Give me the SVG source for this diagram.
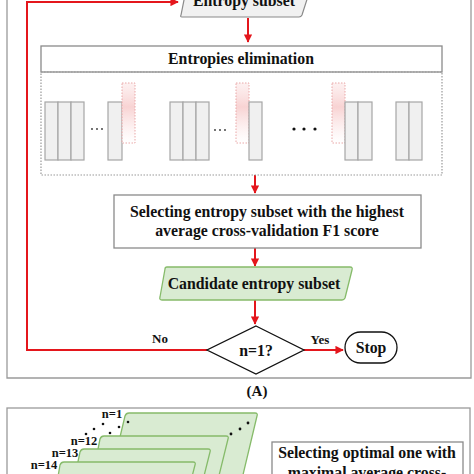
<svg xmlns="http://www.w3.org/2000/svg" width="474" height="474" viewBox="0 0 474 474">
<style>
text{font-family:"Liberation Serif","Times New Roman",serif;font-weight:bold;fill:#111;text-anchor:middle}
.frame{fill:none;stroke:#9a9a9a;stroke-width:1.3}
.box{fill:#fff;stroke:#8a8a8a;stroke-width:1.3}
.bar{fill:#f0f0f0;stroke:#a6a6a6;stroke-width:1.2}
.pink{fill:url(#pg);stroke:#e9a8a8;stroke-width:1;stroke-dasharray:1.5,1.5}
.dots{fill:none;stroke:#999;stroke-width:1.2;stroke-dasharray:1.5,1.5}
.red{fill:none;stroke:#e4161c;stroke-width:2}
.green{fill:#d9ebd2;stroke:#86bb6a;stroke-width:1.3;stroke-linejoin:round}
.lbl{font-size:15.8px}
.sm{font-size:12.5px}
</style>
<defs>
<linearGradient id="pg" x1="0" y1="0" x2="0" y2="1">
<stop offset="0" stop-color="#fbe3e3" stop-opacity="0.5"/>
<stop offset="0.4" stop-color="#f8d3d3"/>
<stop offset="1" stop-color="#fff" stop-opacity="0.6"/>
</linearGradient>
<marker id="ah" viewBox="0 0 10 10" refX="9" refY="5" markerWidth="4.2" markerHeight="4.2" orient="auto" markerUnits="strokeWidth">
<path d="M0,0 L10,5 L0,10 z" fill="#e4161c"/>
</marker>
</defs>

<!-- frames -->
<path class="frame" d="M7,-5 V378 H471 V-5"/>
<rect class="frame" x="7" y="408" width="463" height="80"/>
<text x="257" y="396" style="font-size:15px">(A)</text>

<g id="connectors">
<path class="red" d="M207,350 H27 V2 H178" marker-end="url(#ah)"/>
<path class="red" d="M248,18 V42" marker-end="url(#ah)"/>
<path class="red" d="M255,175 V193" marker-end="url(#ah)"/>
<path class="red" d="M255,248 V266" marker-end="url(#ah)"/>
<path class="red" d="M255,300 V324" marker-end="url(#ah)"/>
<path class="red" d="M304,350 H343" marker-end="url(#ah)"/>
<text x="160" y="343" style="font-size:13px">No</text>
<text x="320" y="344" style="font-size:13px">Yes</text>
</g>

<g id="entropy-subset">
<path d="M187,-12 H309 Q311,-12 310,-10 L302,15 Q301,17 299,17 H182 Q180,17 181,15 L186,-10 Z" fill="#f1f1f1" stroke="#8a8a8a" stroke-width="1.2"/>
<text class="lbl" x="244" y="6">Entropy subset</text>
</g>

<g id="entropies-elimination">
<rect class="box" x="41" y="46" width="401" height="26"/>
<text class="lbl" x="241" y="64">Entropies elimination</text>
<rect class="dots" x="41" y="72" width="401" height="103"/>
<rect class="bar" x="45" y="102" width="13" height="58"/>
<rect class="bar" x="58" y="102" width="13" height="58"/>
<rect class="bar" x="71" y="102" width="13" height="58"/>
<g fill="#333">
<circle cx="92" cy="129" r="0.9"/><circle cx="97" cy="129" r="0.9"/><circle cx="102" cy="129" r="0.9"/>
<circle cx="215" cy="130" r="0.9"/><circle cx="220" cy="130" r="0.9"/><circle cx="225" cy="130" r="0.9"/>
</g>
<rect class="bar" x="108" y="102" width="14" height="58"/>
<rect class="pink" x="122" y="83" width="13" height="60"/>
<rect class="bar" x="170" y="102" width="13" height="58"/>
<rect class="bar" x="183" y="102" width="13" height="58"/>
<rect class="bar" x="196" y="102" width="13" height="58"/>
<rect class="pink" x="236" y="83" width="13" height="60"/>
<rect class="bar" x="249" y="102" width="13" height="58"/>
<circle cx="294" cy="129" r="1.6" fill="#111"/>
<circle cx="304" cy="129" r="1.6" fill="#111"/>
<circle cx="315" cy="129" r="1.6" fill="#111"/>
<rect class="pink" x="332" y="83" width="13" height="60"/>
<rect class="bar" x="345" y="102" width="13" height="58"/>
<rect class="bar" x="358" y="102" width="14" height="58"/>
<rect class="bar" x="396" y="102" width="13" height="58"/>
<rect class="bar" x="409" y="102" width="13" height="58"/>
</g>

<g id="selecting">
<rect class="box" x="114" y="195" width="307" height="53"/>
<text class="lbl" x="267" y="217">Selecting  entropy subset with the highest</text>
<text class="lbl" x="267" y="236">average cross-validation F1 score</text>
</g>

<g id="candidate">
<path class="green" d="M167,267 H350 Q353,267 352,270 L345,298 Q344,300 342,300 H162 Q159,300 160,297 L165,269 Q165,267 167,267 Z"/>
<text class="lbl" x="254" y="289">Candidate entropy subset</text>
</g>

<g id="decision">
<path d="M256,326 L304,350 L256,374 L207,350 Z" fill="#fff" stroke="#111" stroke-width="1.3"/>
<text class="lbl" x="256" y="356">n=1?</text>
</g>

<g id="stop">
<rect x="345" y="332" width="52" height="31" rx="15.5" fill="#fff" stroke="#111" stroke-width="1.3"/>
<text class="lbl" x="371" y="353">Stop</text>
</g>

<g id="stack">
<path class="green" d="M129,413 H255 Q258,413 257,416 L237,500 H105 L125,416 Q126,413 129,413 Z"/>
<path class="green" d="M104,436 H226 Q229,436 228,439 L213,500 H88 L100,439 Q101,436 104,436 Z"/>
<path class="green" d="M84,449 H208 Q211,449 210,452 L198,500 H70 L80,452 Q81,449 84,449 Z"/>
<path class="green" d="M64,462 H193 Q196,462 195,465 L186,500 H54 L60,465 Q61,462 64,462 Z"/>
<g fill="#111">
<circle cx="231" cy="434" r="1.4"/><circle cx="240" cy="429" r="1.4"/><circle cx="248" cy="423" r="1.4"/>
<circle cx="128" cy="422" r="1.3"/>
<circle cx="103" cy="424" r="1.3"/><circle cx="94" cy="429" r="1.3"/><circle cx="86" cy="434" r="1.3"/>
<circle cx="119" cy="427" r="1.3"/><circle cx="110" cy="433" r="1.3"/>
</g>
<text class="sm" x="112" y="418">n=1</text>
<text class="sm" x="84" y="445">n=12</text>
<text class="sm" x="65" y="457">n=13</text>
<text class="sm" x="44" y="469">n=14</text>
</g>

<g id="selecting-optimal">
<rect class="box" x="272" y="442" width="191" height="50"/>
<text class="lbl" x="367" y="458">Selecting  optimal one with</text>
<text class="lbl" x="367" y="478">maximal  average cross-</text>
</g>
</svg>
